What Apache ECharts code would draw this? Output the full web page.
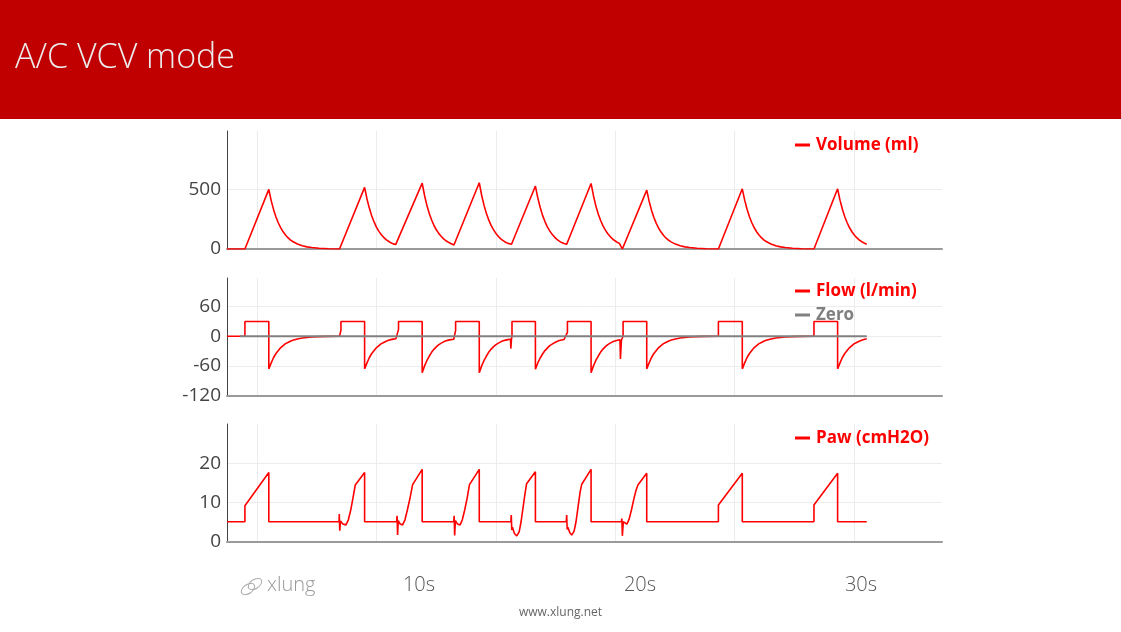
<!DOCTYPE html>
<html><head><meta charset="utf-8">
<script src="https://cdn.jsdelivr.net/npm/echarts@6/dist/echarts.min.js"></script>
<style>html,body{margin:0;padding:0;background:#fff}#c{width:1121px;height:632px}</style>
</head><body><div id="c"></div>
<script>
// ---- data: [time (s), value] ----
const volume = [
  [3.75,0],[4.5,0],[5.5,500],
  [5.6,406],[5.7,330],[5.8,268],[5.9,218],[6.0,177],[6.1,144],[6.2,117],[6.3,95],[6.4,77],[6.5,63],[6.7,42],[6.9,27],[7.1,18],[7.3,12],[7.6,6],[8.0,2],[8.46,0],
  [9.51,517],
  [9.61,420],[9.71,341],[9.81,277],[9.91,225],[10.01,182],[10.11,148],[10.21,120],[10.31,98],[10.41,79],[10.51,65],[10.61,52],[10.71,43],[10.81,37],[10.86,34],
  [11.92,553],
  [12.02,449],[12.12,364],[12.22,296],[12.32,241],[12.42,195],[12.52,159],[12.62,129],[12.72,105],[12.82,85],[12.92,69],[13.02,56],[13.12,46],[13.25,34],
  [14.31,556],
  [14.41,451],[14.51,366],[14.61,297],[14.71,242],[14.81,196],[14.91,160],[15.01,130],[15.11,105],[15.21,85],[15.31,70],[15.41,57],[15.51,47],[15.66,40],
  [16.66,528],
  [16.76,429],[16.86,348],[16.96,282],[17.06,230],[17.16,186],[17.26,152],[17.36,123],[17.46,100],[17.56,81],[17.66,66],[17.76,54],[17.86,46],[17.97,40],
  [18.99,550],
  [19.09,447],[19.19,362],[19.29,294],[19.39,239],[19.49,194],[19.59,158],[19.69,128],[19.79,104],[19.89,84],[19.99,69],[20.09,56],[20.18,46],[20.30,0],
  [21.32,494],
  [21.42,401],[21.52,326],[21.62,264],[21.72,215],[21.82,174],[21.92,142],[22.02,115],[22.12,93],[22.22,76],[22.32,62],[22.52,41],[22.72,27],[22.92,18],[23.12,12],[23.42,6],[23.8,2],[24.32,0],
  [25.32,505],
  [25.42,410],[25.52,333],[25.62,270],[25.72,220],[25.82,178],[25.92,145],[26.02,118],[26.12,95],[26.22,77],[26.32,63],[26.52,42],[26.72,27],[26.92,18],[27.12,12],[27.42,6],[27.8,2],[28.32,0],
  [29.31,505],
  [29.41,410],[29.51,333],[29.61,270],[29.71,220],[29.81,178],[29.91,145],[30.01,118],[30.11,95],[30.21,77],[30.31,63],[30.41,51],[30.53,40]
];
const flow = [
  [3.75,0],[4.5,0],[4.5,30],[5.5,30],[5.5,-66],
  [5.6,-54],[5.7,-43],[5.8,-35],[5.9,-29],[6.0,-23],[6.1,-19],[6.2,-15],[6.3,-12.5],[6.4,-10],[6.5,-8.2],[6.7,-5.5],[6.9,-3.6],[7.1,-2.4],[7.3,-1.6],[7.6,-0.8],[8.0,-0.3],[8.46,0],
  [8.52,12],[8.52,30],[9.51,30],[9.51,-66],
  [9.61,-54],[9.71,-43],[9.81,-35],[9.91,-29],[10.01,-23],[10.11,-19],[10.21,-15],[10.31,-12.5],[10.41,-10],[10.51,-8.2],[10.61,-6.8],[10.71,-5.8],[10.82,-5],
  [10.93,14],[10.93,30],[11.92,30],[11.92,-74],
  [12.02,-60],[12.12,-49],[12.22,-40],[12.32,-32],[12.42,-26],[12.52,-21],[12.62,-17],[12.72,-14],[12.82,-11.3],[12.92,-9.2],[13.02,-7.8],[13.12,-6.8],[13.24,-6],
  [13.32,12],[13.32,30],[14.31,30],[14.31,-74],
  [14.41,-60],[14.51,-49],[14.61,-40],[14.71,-32],[14.81,-26],[14.91,-21],[15.01,-17],[15.11,-14],[15.21,-11.3],[15.31,-9.2],[15.41,-7.8],[15.51,-6.8],[15.62,-6],
  [15.63,-25],[15.66,-5],[15.68,0],[15.68,30],[16.66,30],[16.66,-67],
  [16.76,-54],[16.86,-44],[16.96,-36],[17.06,-29],[17.16,-24],[17.26,-19],[17.36,-16],[17.46,-13],[17.56,-10.5],[17.66,-8.8],[17.76,-7.5],[17.86,-6.6],[17.94,-6],
  [18.0,8],[18.0,30],[18.99,30],[18.99,-74],
  [19.09,-60],[19.19,-49],[19.29,-40],[19.39,-32],[19.49,-26],[19.59,-21],[19.69,-17],[19.79,-14],[19.89,-11.3],[19.99,-9.4],[20.09,-8],[20.20,-7],
  [20.22,-46],[20.26,-8],[20.33,0],[20.33,30],[21.32,30],[21.32,-66],
  [21.42,-54],[21.52,-43],[21.62,-35],[21.72,-29],[21.82,-23],[21.92,-19],[22.02,-15],[22.12,-12.5],[22.22,-10],[22.32,-8.2],[22.52,-5.5],[22.72,-3.6],[22.92,-2.4],[23.12,-1.6],[23.42,-0.8],[23.8,-0.3],[24.32,0],
  [24.32,30],[25.32,30],[25.32,-66],
  [25.42,-54],[25.52,-43],[25.62,-35],[25.72,-29],[25.82,-23],[25.92,-19],[26.02,-15],[26.12,-12.5],[26.22,-10],[26.32,-8.2],[26.52,-5.5],[26.72,-3.6],[26.92,-2.4],[27.12,-1.6],[27.42,-0.8],[27.8,-0.3],[28.32,0],
  [28.32,30],[29.31,30],[29.31,-66],
  [29.41,-54],[29.51,-43],[29.61,-35],[29.71,-29],[29.81,-23],[29.91,-19],[30.01,-15],[30.11,-12.5],[30.21,-10],[30.31,-8.2],[30.41,-6.7],[30.53,-5.2]
];
const paw = [
  [3.75,5],[4.5,5],[4.5,9.1],[5.5,17.6],[5.5,5],
  [8.44,5],[8.45,7],[8.47,2.7],[8.5,5.2],[8.6,4.4],[8.73,4.2],[8.83,5.5],[8.93,8],[9.02,11],[9.12,14.4],[9.51,17.6],[9.51,5],
  [10.85,5],[10.87,6.5],[10.89,1.6],[10.92,5.3],[11.0,4.4],[11.1,4.2],[11.2,5.5],[11.3,8],[11.41,11],[11.52,14.5],[11.92,18.4],[11.92,5],
  [13.24,5],[13.26,6.5],[13.28,1.5],[13.31,5.3],[13.4,4.4],[13.51,4.2],[13.6,5.5],[13.7,8],[13.8,11],[13.9,14.5],[14.31,18.4],[14.31,5],
  [15.63,5],[15.65,6.7],[15.67,2.9],[15.70,3.6],[15.78,2],[15.88,1.4],[15.98,2.4],[16.06,5],[16.14,8.5],[16.22,12],[16.29,14.7],[16.66,17.8],[16.66,5],
  [17.95,5],[17.97,6.7],[17.99,3],[18.02,3.6],[18.1,2.2],[18.18,1.6],[18.28,2.6],[18.36,5],[18.45,9],[18.53,12.5],[18.6,14.6],[18.99,18.4],[18.99,5],
  [20.26,5],[20.28,5.8],[20.30,1.4],[20.34,5],[20.42,4.5],[20.49,4.4],[20.58,5.6],[20.68,8],[20.78,10.8],[20.87,13],[20.95,14.4],[21.32,17.4],[21.32,5],
  [24.32,5],[24.32,9.3],[25.32,17.4],[25.32,5],
  [28.32,5],[28.32,9.3],[29.31,17.4],[29.31,5],[30.53,5]
];
const zero = [[4.3,0],[30.53,0]];
const timeLabelStep = 10;   // bottom labels: 10s, 20s, 30s
const timeLabelMax = 30;
const seriesNames = ['Volume (ml)', 'Flow (l/min)', 'Zero', 'Paw (cmH2O)'];

// ---- layout ----
const FONT = "'Open Sans', 'Noto Sans', sans-serif";
const RED = '#ff0000';
const grids = [
  {left: 227, right: 179, top: 131, height: 118},
  {left: 227, right: 179, top: 278, height: 117.5},
  {left: 227, right: 179, top: 424, height: 117.3},
  {left: 198, right: 260, top: 566, height: 1}
];
function xAx(gi) {
  return {
    type: 'value', gridIndex: gi, min: 3.75, max: 33.68, splitNumber: 6,
    axisLine: {show: true, onZero: false, lineStyle: {color: '#9a9a9a', width: 2}},
    axisTick: {show: false}, axisLabel: {show: false},
    splitLine: {show: true, showMinLine: false, showMaxLine: false, lineStyle: {color: '#ececec', width: 1}}
  };
}
function yAx(gi, min, max, interval) {
  return {
    type: 'value', gridIndex: gi, min: min, max: max, interval: interval,
    axisLine: {show: true, lineStyle: {color: '#444', width: 1}},
    axisTick: {show: false},
    axisLabel: {color: '#444', fontSize: 19, fontFamily: FONT, margin: 6, showMaxLabel: false},
    splitLine: {show: true, showMinLine: false, showMaxLine: false, lineStyle: {color: '#ececec', width: 1}}
  };
}
const lineBase = {type: 'line', showSymbol: false, symbol: 'none', animation: false, silent: true};
const legendBase = {
  orient: 'vertical', left: 795, padding: 0, itemWidth: 15, itemHeight: 3, itemGap: 6,
  icon: 'rect', selectedMode: false,
  textStyle: {color: RED, fontSize: 17, fontWeight: 'bold', fontFamily: FONT, lineHeight: 18, padding: [0, 0, 0, 1]}
};

const chart = echarts.init(document.getElementById('c'), null, {renderer: 'canvas'});
chart.setOption({
  backgroundColor: '#ffffff',
  animation: false,
  grid: grids,
  xAxis: [xAx(0), xAx(1), xAx(2), {
    type: 'value', gridIndex: 3, min: 0, max: timeLabelMax, interval: timeLabelStep,
    axisLine: {show: false}, axisTick: {show: false}, splitLine: {show: false},
    axisLabel: {show: true, showMinLabel: false, hideOverlap: false, margin: 8, color: '#555', fontSize: 20, fontWeight: 300, fontFamily: FONT,
      formatter: v => v + 's'}
  }],
  yAxis: [yAx(0, 0, 990, 500), yAx(1, -120, 118, 60), yAx(2, 0, 30, 10), {type: 'value', gridIndex: 3, show: false}],
  legend: [
    Object.assign({}, legendBase, {top: 136, data: [seriesNames[0]]}),
    Object.assign({}, legendBase, {top: 282, data: [seriesNames[1], {name: seriesNames[2], textStyle: {color: '#808080'}}]}),
    Object.assign({}, legendBase, {top: 429, data: [seriesNames[3]]})
  ],
  series: [
    Object.assign({}, lineBase, {name: seriesNames[0], xAxisIndex: 0, yAxisIndex: 0, data: volume, color: RED, lineStyle: {color: RED, width: 1.6}}),
    Object.assign({}, lineBase, {name: seriesNames[1], xAxisIndex: 1, yAxisIndex: 1, data: flow, color: RED, lineStyle: {color: RED, width: 1.6}, z: 2}),
    Object.assign({}, lineBase, {name: seriesNames[2], xAxisIndex: 1, yAxisIndex: 1, data: zero, color: '#808080', lineStyle: {color: '#808080', width: 2}, z: 3}),
    Object.assign({}, lineBase, {name: seriesNames[3], xAxisIndex: 2, yAxisIndex: 2, data: paw, color: RED, lineStyle: {color: RED, width: 1.6}})
  ],
  graphic: [
    {type: 'rect', left: 0, top: 0, shape: {width: 1121, height: 119}, style: {fill: '#c00000'}, z: 0, silent: true},
    {type: 'text', left: 15, top: 41, style: {text: 'A/C VCV mode', fill: '#ececec', font: "300 34px 'Open Sans', sans-serif"}, silent: true},
    {type: 'ellipse', x: 248, y: 589, rotation: 0.6, shape: {cx: 0, cy: 0, rx: 7.5, ry: 4.5}, style: {fill: 'none', stroke: '#aaa', lineWidth: 1}, silent: true},
    {type: 'ellipse', x: 255, y: 584, rotation: 0.6, shape: {cx: 0, cy: 0, rx: 7.5, ry: 4.5}, style: {fill: 'none', stroke: '#aaa', lineWidth: 1}, silent: true},
    {type: 'text', left: 267, top: 575, style: {text: 'xlung', fill: '#999', font: "300 20px 'Open Sans', sans-serif"}, silent: true},
    {type: 'text', left: 'center', top: 607, style: {text: 'www.xlung.net', fill: '#666', font: "12px 'Open Sans', sans-serif"}, silent: true}
  ]
});
</script>
</body></html>
